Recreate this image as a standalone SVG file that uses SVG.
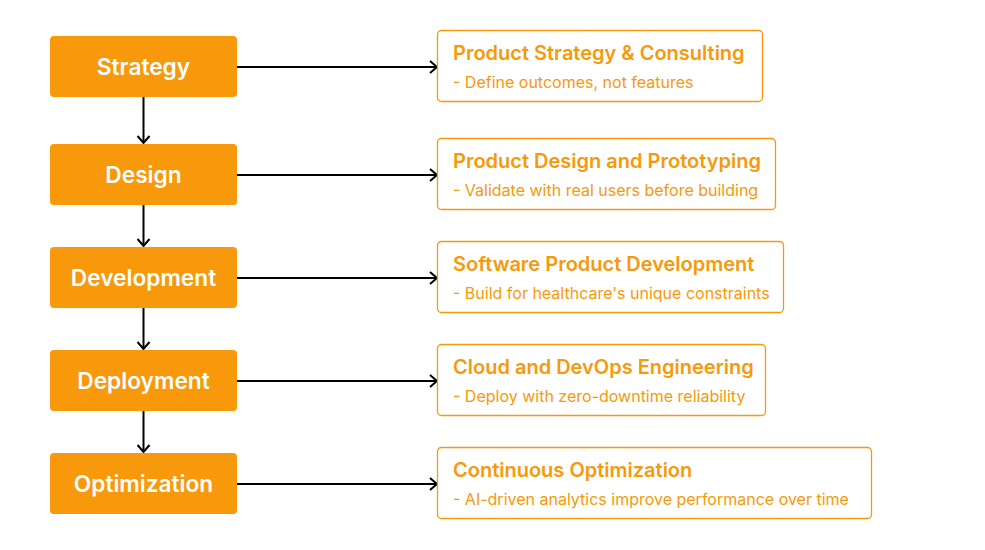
<svg xmlns="http://www.w3.org/2000/svg" width="985" height="550" viewBox="0 0 985 550">
<defs>
<marker id="arr" markerWidth="12" markerHeight="14" refX="10" refY="7" orient="auto" markerUnits="userSpaceOnUse">
<path d="M3,1 L10,7 L3,13" fill="none" stroke="#000" stroke-width="2"/>
</marker>
<style>
.step rect{fill:#F7990A;}
.step text{fill:#fff;font-family:Inter,"Noto Sans",sans-serif;font-weight:600;font-size:22.7px;text-anchor:middle;}
.card rect{fill:#fff;stroke:#F7990A;stroke-width:1.3;}
.card .t{fill:#F7990A;font-family:Inter,"Noto Sans",sans-serif;font-weight:600;font-size:20px;}
.card .s{fill:#F7990A;font-family:Inter,"Noto Sans",sans-serif;font-weight:400;font-size:16px;}
.conn line{stroke:#000;stroke-width:2;marker-end:url(#arr);}
</style>
</defs>
<rect width="985" height="550" fill="#fff"/>
<g id="connectors" class="conn">
<line x1="237" y1="67" x2="437" y2="67"/>
<line x1="237" y1="175" x2="437" y2="175"/>
<line x1="237" y1="278" x2="437" y2="278"/>
<line x1="237" y1="381" x2="437" y2="381"/>
<line x1="237" y1="484" x2="437" y2="484"/>
<line x1="143.5" y1="97" x2="143.5" y2="143"/>
<line x1="143.5" y1="205" x2="143.5" y2="246"/>
<line x1="143.5" y1="308" x2="143.5" y2="349"/>
<line x1="143.5" y1="411" x2="143.5" y2="452"/>
</g>
<g id="strategy" class="step"><rect x="50" y="36" width="187" height="61" rx="4"/><text x="143.5" y="75">Strategy</text></g>
<g id="design" class="step"><rect x="50" y="144" width="187" height="61" rx="4"/><text x="143.5" y="183">Design</text></g>
<g id="development" class="step"><rect x="50" y="247" width="187" height="61" rx="4"/><text x="143.5" y="286">Development</text></g>
<g id="deployment" class="step"><rect x="50" y="350" width="187" height="61" rx="4"/><text x="143.5" y="389">Deployment</text></g>
<g id="optimization" class="step"><rect x="50" y="453" width="187" height="61" rx="4"/><text x="143.5" y="492">Optimization</text></g>
<g id="card-strategy" class="card"><rect x="437.5" y="30.5" width="325" height="71" rx="4"/><text class="t" x="453" y="60">Product Strategy &amp; Consulting</text><text class="s" x="453" y="88">- Define outcomes, not features</text></g>
<g id="card-design" class="card"><rect x="437.5" y="138.5" width="338" height="71" rx="4"/><text class="t" x="453" y="168">Product Design and Prototyping</text><text class="s" x="453" y="196">- Validate with real users before building</text></g>
<g id="card-development" class="card"><rect x="437.5" y="241.5" width="346" height="71" rx="4"/><text class="t" x="453" y="271">Software Product Development</text><text class="s" x="453" y="299">- Build for healthcare's unique constraints</text></g>
<g id="card-deployment" class="card"><rect x="437.5" y="344.5" width="328" height="71" rx="4"/><text class="t" x="453" y="374">Cloud and DevOps Engineering</text><text class="s" x="453" y="402">- Deploy with zero-downtime reliability</text></g>
<g id="card-optimization" class="card"><rect x="437.5" y="447.5" width="434" height="71" rx="4"/><text class="t" x="453" y="477">Continuous Optimization</text><text class="s" x="453" y="505">- AI-driven analytics improve performance over time</text></g>
</svg>
